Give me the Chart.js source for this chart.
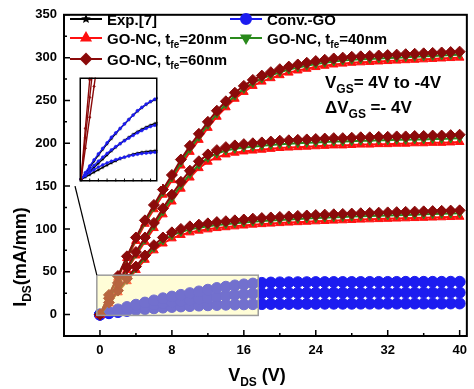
<!DOCTYPE html>
<html>
<head>
<meta charset="utf-8">
<script src="https://cdn.jsdelivr.net/npm/chart.js@4/dist/chart.umd.min.js"></script>
<style>
  html, body { margin: 0; padding: 0; background: #fff; }
  #wrap { position: relative; width: 474px; height: 389px; }
  #main { position: absolute; left: 0; top: 0; }
  #inset { position: absolute; left: 75px; top: 73px; }
</style>
</head>
<body>
<div id="wrap">
  <canvas id="main" width="474" height="389"></canvas>
  <canvas id="inset" width="87" height="113"></canvas>
</div>
<script>
// V_DS sweep (V)
const vds = [0,1,2,3,4,5,6,7,8,9,10,11,12,13,14,15,16,17,18,19,20,21,22,23,24,25,26,27,28,29,30,31,32,33,34,35,36,37,38,39,40];

const xTicks = [0, 8, 16, 24, 32, 40];
const xMinor = [4, 12, 20, 28, 36];
const yTicks = [0, 50, 100, 150, 200, 250, 300, 350];
const yMinor = [25, 75, 125, 175, 225, 275, 325];
const insetTicks = [0, 2, 4, 6, 8, 10, 12, 14, 16];

// zoomed window (yellow box + inset), V and mA/mm
const zoomX = [-0.35, 17.6];
const zoomY = [-1, 46];

// GO-NC, t_fe = 60nm  (V_GS = 4, 0, -4 V)
const nc60Hi  = [0,23,45,68,90,110,128,146,163,181,197,211,225,238,249,259,267,274,279,283,286.5,289.5,292,294,296,297.5,299,300,301,301.5,302,302.5,303,303.5,304,304.5,305,305.5,306,306.5,307];
const nc60Mid = [0,19,37,55,73,90,107,124,140,155,168,179,187,192,195.5,197.5,199,200,201,202,203,203.5,204,204.5,205,205.5,206,206,206.5,207,207,207.5,207.5,208,208,208.5,208.5,209,209,209.5,210];
const nc60Lo  = [0,14,28,42,56,69,81,90,96,100,103,105,106.5,108,109,110,111,112,112.7,113.4,114,114.6,115.2,115.7,116.2,116.7,117.1,117.5,117.9,118.3,118.7,119,119.3,119.6,119.9,120.2,120.5,120.8,121.1,121.4,121.7];

// GO-NC, t_fe = 40nm
const nc40Hi  = [0,22.5,44,67,88.5,108,125.5,143,160,177.5,193.5,207.5,221.5,234.5,245.5,255.5,263.5,270.5,275.5,279.5,283,286,288.5,290.5,292.5,294,295.5,296.5,297.5,298,298.5,299,299.5,300,300.5,301,301.5,302,302.5,303,303.5];
const nc40Mid = [0,18.5,36,53.5,71,87.5,104,120.5,136,151,164,175,183,188,191.5,193.5,195,196,197,198,199,199.5,200,200.5,201,201.5,202,202,202.5,203,203,203.5,203.5,204,204,204.5,204.5,205,205,205.5,206];
const nc40Lo  = [0,13.5,27,40.5,54,66.5,78,86.5,92.5,96.5,99.5,101.5,103,104.5,105.5,106.5,107.5,108.5,109.2,109.9,110.5,111.1,111.7,112.2,112.7,113.2,113.6,114,114.4,114.8,115.2,115.5,115.8,116.1,116.4,116.7,117,117.3,117.6,117.9,118.2];

// GO-NC, t_fe = 20nm
const nc20Hi  = [0,22,43,66,86,106,123,140,157,174,190,204,218,231,242,252,260,267,272,276,279.5,282.5,285,287,289,290.5,292,293,294,294.5,295,295.5,296,296.5,297,297.5,298,298.5,299,299.5,300];
const nc20Mid = [0,18,35,52,69,85,101,117,132,147,160,171,178.5,183.5,187,189,190.5,191.5,192.5,193.5,194.5,195,195.5,196,196.5,197,197.5,197.5,198,198.5,198.5,199,199,199.5,199.5,200,200,200.5,200.5,201,201.5];
const nc20Lo  = [0,13,26,39,52,64,75,83,89,93,96,98,99.5,101,102,103,104,105,105.6,106.2,106.8,107.4,107.9,108.4,108.9,109.3,109.7,110.1,110.5,110.9,111.2,111.5,111.8,112.1,112.4,112.7,113,113.3,113.6,113.9,114.2];

// Conv.-GO
const convHi  = [0,3,6,8.8,11.5,14,16.5,19,21,23,25,27,29,31,32.5,34,35.2,36.2,37,37.4,37.6,37.7,37.8,37.8,37.9,37.9,38,38,38,38,38.1,38.1,38.1,38.1,38.2,38.2,38.2,38.2,38.2,38.3,38.3];
const convMid = [0,2.2,4.3,6.3,8.2,10,11.7,13.3,14.8,16.1,17.4,18.6,19.8,21,22,23,23.8,24.4,24.8,25.1,25.2,25.3,25.3,25.4,25.4,25.4,25.5,25.5,25.5,25.5,25.5,25.6,25.6,25.6,25.6,25.6,25.7,25.7,25.7,25.7,25.7];
const convLo  = [0,1.6,3,4.3,5.5,6.5,7.4,8.2,8.9,9.5,10,10.5,10.9,11.3,11.6,11.8,12,12.2,12.3,12.4,12.5,12.5,12.6,12.6,12.6,12.7,12.7,12.7,12.7,12.8,12.8,12.8,12.8,12.8,12.9,12.9,12.9,12.9,12.9,13,13];

// Exp.[7]
const expHi  = [0,2.6,5.4,8.2,10.9,13.5,16,18.4,20.7,22.9,25,27,29,30.8,32.4,33.8,35,36,36.8,37.3,37.6,37.7,37.8,37.8,37.9,37.9,37.9,38,38,38,38,38,38.1,38.1,38.1,38.1,38.1,38.2,38.2,38.2,38.2];
const expMid = [0,1.6,3.4,5.3,7.2,9.1,11,12.8,14.5,16.1,17.6,19,20.3,21.5,22.6,23.6,24.5,25.2,25.7,26,26.2,26.3,26.4,26.4,26.5,26.5,26.5,26.6,26.6,26.6,26.6,26.7,26.7,26.7,26.7,26.7,26.8,26.8,26.8,26.8,26.8];
const expLo  = [0,1,2.1,3.2,4.3,5.4,6.4,7.4,8.3,9.2,10,10.7,11.3,11.8,12.2,12.5,12.7,12.9,13,13.1,13.1,13.2,13.2,13.2,13.3,13.3,13.3,13.3,13.3,13.4,13.4,13.4,13.4,13.4,13.4,13.5,13.5,13.5,13.5,13.5,13.5];

const FONT = '"Liberation Sans", Arial, Helvetica, sans-serif';
const C_EXP = '#000000', C_CONV = '#1c1cf0', C_20 = '#ff1010', C_40 = '#2a8a1c', C_60 = '#8b0a0a';

function makeStar(r, color) {
    const c = document.createElement('canvas');
    const s = Math.ceil(r * 2 + 2);
    c.width = c.height = s;
    const g = c.getContext('2d');
    g.fillStyle = color;
    g.beginPath();
    for (let i = 0; i < 10; i++) {
        const a = -Math.PI / 2 + i * Math.PI / 5;
        const rr = i % 2 ? r * 0.45 : r;
        g.lineTo(s / 2 + rr * Math.cos(a), s / 2 + rr * Math.sin(a));
    }
    g.closePath();
    g.fill();
    return c;
}
const starBig = makeStar(5, C_EXP);
const starSmall = makeStar(2, C_EXP);

function series(vals, color, style, extra) {
    return Object.assign({
        data: vals.map((v, i) => ({ x: vds[i], y: v })),
        borderColor: color,
        backgroundColor: color,
        pointBackgroundColor: color,
        pointBorderColor: color,
        borderWidth: 2,
        pointStyle: style,
        pointRadius: 5.5,
        pointBorderWidth: 1,
        tension: 0,
        fill: false
    }, extra || {});
}

// draws a string with subscripts: parts = [[text, isSub], ...]
function rich(ctx, parts, x, y, size, align) {
    const big = `bold ${size}px ${FONT}`;
    const small = `bold ${Math.round(size * 0.68)}px ${FONT}`;
    let w = 0;
    parts.forEach(p => { ctx.font = p[1] ? small : big; w += ctx.measureText(p[0]).width; });
    let cx = align === 'center' ? x - w / 2 : x;
    ctx.textAlign = 'left';
    ctx.textBaseline = 'alphabetic';
    parts.forEach(p => {
        ctx.font = p[1] ? small : big;
        ctx.fillText(p[0], cx, p[1] ? y + size * 0.3 : y);
        cx += ctx.measureText(p[0]).width;
    });
}

const legendItems = [
    { parts: [['Exp.[7]']], color: C_EXP, style: starBig, rot: 0, x: 70, y: 19 },
    { parts: [['Conv.-GO']], color: C_CONV, style: 'circle', rot: 0, x: 230, y: 19 },
    { parts: [['GO-NC, t'], ['fe', 1], ['=20nm']], color: C_20, style: 'triangle', rot: 0, x: 70, y: 38 },
    { parts: [['GO-NC, t'], ['fe', 1], ['=40nm']], color: C_40, style: 'triangle', rot: 180, x: 230, y: 38 },
    { parts: [['GO-NC, t'], ['fe', 1], ['=60nm']], color: C_60, style: 'rectRot', rot: 0, x: 70, y: 59 }
];

const mainDecor = {
    id: 'mainDecor',
    beforeDraw(chart) {
        const { ctx, width, height } = chart;
        ctx.save();
        ctx.fillStyle = '#fff';
        ctx.fillRect(0, 0, width, height);
        ctx.restore();
    },
    afterDatasetsDraw(chart) {
        const { ctx, chartArea: a, scales: { x, y } } = chart;
        ctx.save();

        // highlighted zoom window
        const bx0 = x.getPixelForValue(zoomX[0]), bx1 = x.getPixelForValue(zoomX[1]);
        const by0 = y.getPixelForValue(zoomY[0]), by1 = y.getPixelForValue(zoomY[1]);
        ctx.fillStyle = 'rgba(255,250,150,0.38)';
        ctx.fillRect(bx0, by1, bx1 - bx0, by0 - by1);
        ctx.strokeStyle = '#9c9c9c';
        ctx.lineWidth = 1.5;
        ctx.strokeRect(bx0, by1, bx1 - bx0, by0 - by1);

        // connector to the inset
        ctx.strokeStyle = '#000';
        ctx.lineWidth = 1.2;
        ctx.beginPath();
        ctx.moveTo(75, 186);
        ctx.lineTo(bx0, by1);
        ctx.stroke();

        // frame
        ctx.lineWidth = 2;
        ctx.strokeRect(a.left, a.top, a.right - a.left, a.bottom - a.top);

        // inward ticks
        ctx.lineWidth = 1.5;
        ctx.beginPath();
        xTicks.forEach(v => { const px = x.getPixelForValue(v); ctx.moveTo(px, a.bottom); ctx.lineTo(px, a.bottom - 6); });
        xMinor.forEach(v => { const px = x.getPixelForValue(v); ctx.moveTo(px, a.bottom); ctx.lineTo(px, a.bottom - 3); });
        yTicks.forEach(v => { const py = y.getPixelForValue(v); ctx.moveTo(a.left, py); ctx.lineTo(a.left + 6, py); });
        yMinor.forEach(v => { const py = y.getPixelForValue(v); ctx.moveTo(a.left, py); ctx.lineTo(a.left + 3, py); });
        ctx.stroke();

        // axis titles
        ctx.fillStyle = '#000';
        rich(ctx, [['V'], ['DS', 1], [' (V)']], 257, 381, 18, 'center');
        ctx.save();
        ctx.translate(26, 257);
        ctx.rotate(-Math.PI / 2);
        rich(ctx, [['I'], ['DS', 1], ['(mA/mm)']], 0, 0, 18, 'center');
        ctx.restore();

        // bias note
        rich(ctx, [['V'], ['GS', 1], ['= 4V to -4V']], 325, 88, 17, 'left');
        rich(ctx, [['\u0394V'], ['GS', 1], [' =- 4V']], 325, 113, 17, 'left');

        // legend
        legendItems.forEach(it => {
            ctx.strokeStyle = it.color;
            ctx.fillStyle = it.color;
            ctx.lineWidth = 2;
            ctx.beginPath();
            ctx.moveTo(it.x, it.y);
            ctx.lineTo(it.x + 32, it.y);
            ctx.stroke();
            Chart.helpers.drawPoint(ctx, { pointStyle: it.style, radius: 5, rotation: it.rot, borderWidth: 1 }, it.x + 16, it.y);
            ctx.fillStyle = '#000';
            rich(ctx, it.parts, it.x + 37, it.y + 5.5, 15, 'left');
        });

        ctx.restore();
    }
};

new Chart(document.getElementById('main'), {
    type: 'line',
    data: {
        datasets: [
            series(expHi, C_EXP, starBig, { order: 5, borderWidth: 1.5 }),
            series(expMid, C_EXP, starBig, { order: 5, borderWidth: 1.5 }),
            series(expLo, C_EXP, starBig, { order: 5, borderWidth: 1.5 }),
            series(convHi, C_CONV, 'circle', { order: 4 }),
            series(convMid, C_CONV, 'circle', { order: 4 }),
            series(convLo, C_CONV, 'circle', { order: 4 }),
            series(nc20Hi, C_20, 'triangle', { order: 3, pointRadius: 5 }),
            series(nc20Mid, C_20, 'triangle', { order: 3, pointRadius: 5 }),
            series(nc20Lo, C_20, 'triangle', { order: 3, pointRadius: 5 }),
            series(nc40Hi, C_40, 'triangle', { order: 2, pointRotation: 180, pointRadius: 4.5 }),
            series(nc40Mid, C_40, 'triangle', { order: 2, pointRotation: 180, pointRadius: 4.5 }),
            series(nc40Lo, C_40, 'triangle', { order: 2, pointRotation: 180, pointRadius: 4.5 }),
            series(nc60Hi, C_60, 'rectRot', { order: 1 }),
            series(nc60Mid, C_60, 'rectRot', { order: 1 }),
            series(nc60Lo, C_60, 'rectRot', { order: 1 })
        ]
    },
    options: {
        responsive: false,
        animation: false,
        events: [],
        layout: { padding: { top: 8.7, right: 5, left: 0, bottom: 0 } },
        plugins: { legend: { display: false }, tooltip: { enabled: false } },
        scales: {
            x: {
                type: 'linear', min: -4, max: 40.8,
                grid: { display: false, drawTicks: false },
                border: { display: false },
                afterBuildTicks: s => { s.ticks = xTicks.map(v => ({ value: v })); },
                ticks: { font: { family: FONT, size: 13, weight: 'bold' }, color: '#000', padding: 7, maxRotation: 0, autoSkip: false },
                afterFit: s => { s.height = 53; }
            },
            y: {
                type: 'linear', min: -25, max: 350,
                grid: { display: false, drawTicks: false },
                border: { display: false },
                afterBuildTicks: s => { s.ticks = yTicks.map(v => ({ value: v })); },
                ticks: { font: { family: FONT, size: 13, weight: 'bold' }, color: '#000', padding: 7, autoSkip: false },
                afterFit: s => { s.width = 64; }
            }
        }
    },
    plugins: [mainDecor]
});

// ---- inset: zoom on the low-current region ----
const insetDecor = {
    id: 'insetDecor',
    beforeDraw(chart) {
        const { ctx, width, height } = chart;
        ctx.save();
        ctx.fillStyle = '#fff';
        ctx.fillRect(0, 0, width, height);
        ctx.restore();
    },
    afterDatasetsDraw(chart) {
        const { ctx, chartArea: a, scales: { x } } = chart;
        ctx.save();
        ctx.strokeStyle = '#000';
        ctx.lineWidth = 1.5;
        ctx.strokeRect(a.left + 0.75, a.top + 0.75, a.right - a.left - 1.5, a.bottom - a.top - 1.5);
        ctx.lineWidth = 1;
        ctx.beginPath();
        insetTicks.forEach(v => { const px = x.getPixelForValue(v); ctx.moveTo(px, a.bottom); ctx.lineTo(px, a.bottom - 3); });
        ctx.stroke();
        ctx.restore();
    }
};

function small(vals, color, style, order) {
    return series(vals, color, style, { order: order, borderWidth: 1.4, pointRadius: 1.4, pointBorderWidth: 0.5 });
}

new Chart(document.getElementById('inset'), {
    type: 'line',
    data: {
        datasets: [
            small(expHi, C_EXP, starSmall, 3),
            small(expMid, C_EXP, starSmall, 3),
            small(expLo, C_EXP, starSmall, 3),
            small(convHi, C_CONV, 'circle', 2),
            small(convMid, C_CONV, 'circle', 2),
            small(convLo, C_CONV, 'circle', 2),
            small(nc60Hi, C_60, 'rectRot', 1),
            small(nc60Mid, C_60, 'rectRot', 1),
            small(nc60Lo, C_60, 'rectRot', 1)
        ]
    },
    options: {
        responsive: false,
        animation: false,
        events: [],
        layout: { padding: 0 },
        plugins: { legend: { display: false }, tooltip: { enabled: false } },
        scales: {
            x: { type: 'linear', display: false, min: zoomX[0], max: zoomX[1] },
            y: { type: 'linear', display: false, min: zoomY[0], max: zoomY[1] }
        }
    },
    plugins: [insetDecor]
});
</script>
</body>
</html>
